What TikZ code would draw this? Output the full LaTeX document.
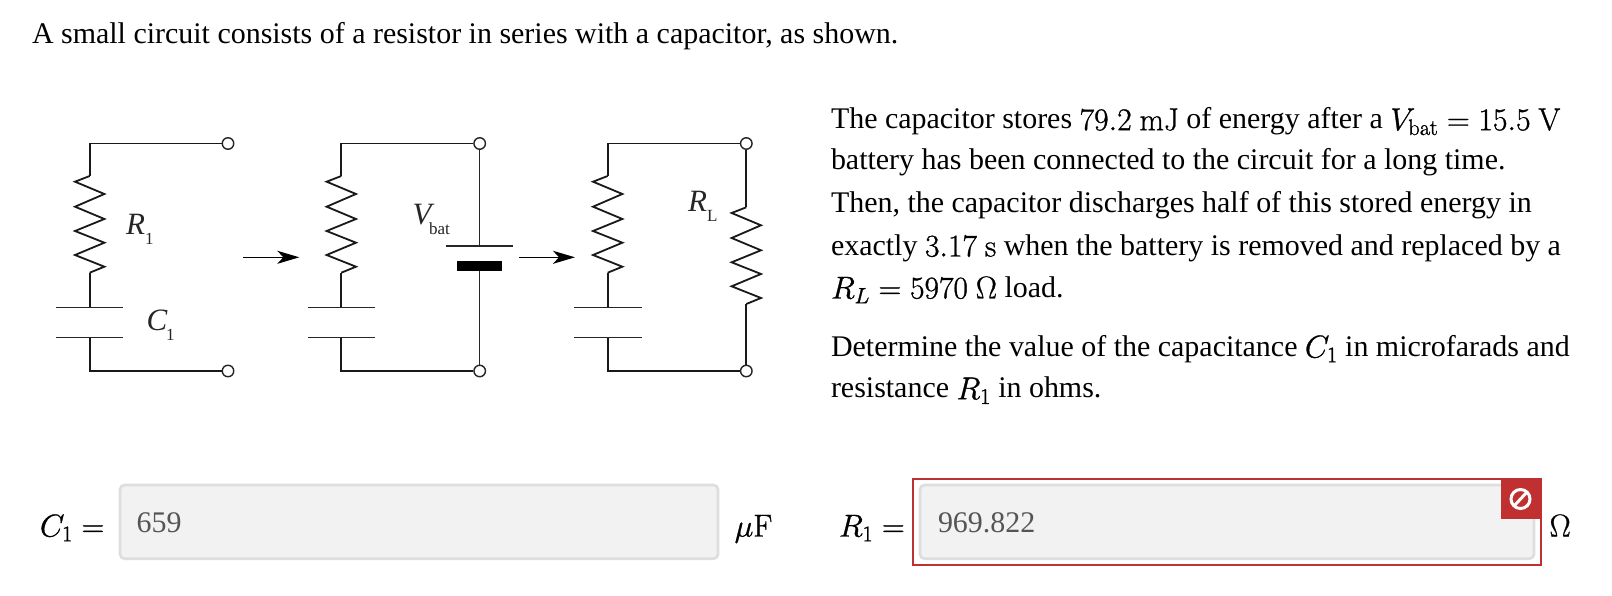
\documentclass[tikz,border=0pt]{standalone}
\usepackage{fix-cm}
\usepackage[no-math]{fontspec}
\setmainfont{Liberation Serif}
\usetikzlibrary{arrows.meta}
\newcommand{\bodyf}{\fontsize{29.95}{32}\selectfont}
\newcommand{\mathf}{\fontsize{31.6}{34}\selectfont}
\newcommand{\heavy}[1]{\special{pdf:code 2 Tr 0.3 w}#1\special{pdf:code 0 Tr 1 w}}
\newcommand{\mth}[1]{{\mathf\raisebox{-1.5pt}{\heavy{$#1$}}}}
\definecolor{inputgrey}{HTML}{F2F2F2}
\definecolor{inputline}{HTML}{DEDEDE}
\definecolor{inputtext}{HTML}{555555}
\definecolor{alertred}{HTML}{C03030}
\tikzset{
  wire/.style={line width=1.8pt,black!90,line join=miter},
  thinwire/.style={line width=1.4pt,black!85},
  term/.style={circle,draw=black!85,fill=white,line width=1.4pt,minimum size=11.5pt,inner sep=0pt},
  flow/.style={line width=1.3pt,black,-{Stealth[length=22pt,width=13pt,inset=6pt]}},
  txt/.style={anchor=base west,inner sep=0pt,outer sep=0pt,font=\bodyf,yshift=-1pt},
  lab/.style={anchor=base west,inner sep=0pt,outer sep=0pt,font=\fontsize{31}{32}\selectfont\itshape,text=black!85},
  sub/.style={anchor=base west,inner sep=0pt,outer sep=0pt,font=\fontsize{17}{18}\selectfont,text=black!85},
  field/.style={draw=inputline,fill=inputgrey,line width=2.6pt,rounded corners=4.5pt},
  val/.style={anchor=base west,inner sep=0pt,outer sep=0pt,font=\fontsize{29.95}{32}\selectfont,text=inputtext},
  zig/.pic={\draw[wire] (0,0) -- (-14.7,5.7) -- (14.7,18) -- (-14.7,30.7) -- (14.7,43) -- (-14.7,55) -- (14.7,66.7) -- (-14.7,79) -- (14.7,90.7) -- (0,96.7);}
}
\begin{document}
\begin{tikzpicture}[x=1pt,y=-1pt]
\useasboundingbox (0,0) rectangle (1612,596);
\fill[white] (0,0) rectangle (1612,596);
\node[txt] (head) at (32,43) {A small circuit consists of a resistor in series with a capacitor, as shown.};
% circuit 1
\node[term] (a1) at (228,143.5) {};
\node[term] (a2) at (228,371) {};
\coordinate (ra) at (89.7,176); \coordinate (rb) at (89.7,272.7);
\coordinate (ca) at (89.7,307.3); \coordinate (cb) at (89.7,337.3);
\draw[wire] (ra) |- (a1.west);
\draw[wire] (rb) -- (ca);
\draw[wire] (cb) |- (a2.west);
\pic at (ra) {zig};
\draw[thinwire] (56,307.3) -- (123.3,307.3);
\draw[thinwire] (56,337.3) -- (123.3,337.3);
\node[lab] (r1) at (126,234.3) {R};
\node[sub] (r1s) at (145,244) {1};
\node[lab] (c1) at (146.7,330.7) {C};
\node[sub] (c1s) at (166,340) {1};
% arrow 1
\coordinate (f1a) at (243.3,257.3); \coordinate (f1b) at (299.3,257.3);
\draw[flow] (f1a) -- (f1b);
% circuit 2
\node[term] (b1) at (479.7,143.5) {};
\node[term] (b2) at (479.7,371) {};
\coordinate (rc) at (341.3,176); \coordinate (rd) at (341.3,272.7);
\coordinate (cc) at (341.3,307.3); \coordinate (cd) at (341.3,337.3);
\coordinate (ba) at (479.7,246); \coordinate (bb) at (479.7,266);
\draw[wire] (rc) |- (b1.west);
\draw[wire] (rd) -- (cc);
\draw[wire] (cd) |- (b2.west);
\pic at (rc) {zig};
\draw[thinwire] (307.7,307.3) -- (375,307.3);
\draw[thinwire] (307.7,337.3) -- (375,337.3);
\draw[thinwire] (b1.south) -- (ba);
\draw[thinwire] (bb) -- (b2.north);
\draw[thinwire] (446,246) -- (513.3,246);
\fill[black] (457,261.3) rectangle (502,270.7);
\node[lab] (vb) at (412.7,225) {V};
\node[sub] (vbs) at (429,235) {bat};
% arrow 2
\coordinate (f2a) at (519.3,257.3); \coordinate (f2b) at (575,257.3);
\draw[flow] (f2a) -- (f2b);
% circuit 3
\node[term] (c3a) at (746.3,143.5) {};
\node[term] (c3b) at (746.3,371) {};
\coordinate (re) at (607.7,176); \coordinate (rf) at (607.7,272.7);
\coordinate (ce) at (607.7,307.3); \coordinate (cf) at (607.7,337.3);
\coordinate (rg) at (746.3,207.3); \coordinate (rh) at (746.3,303.9);
\draw[wire] (re) |- (c3a.west);
\draw[wire] (rf) -- (ce);
\draw[wire] (cf) |- (c3b.west);
\pic at (re) {zig};
\draw[wire] (c3a.south) -- (rg);
\pic at (rg) {zig};
\draw[wire] (rh) -- (c3b.north);
\draw[thinwire] (574.3,307.3) -- (641.7,307.3);
\draw[thinwire] (574.3,337.3) -- (641.7,337.3);
\node[lab] (rl) at (688,211.7) {R};
\node[sub] (rls) at (707,221.7) {L};
% paragraph
\node[txt] (l1) at (831,127.7) {The capacitor stores \mth{79.2\ \mathrm{mJ}} of energy after a \mth{V_{\mathrm{bat}}=15.5\ \mathrm{V}}};
\node[txt] (l2) at (831,169) {battery has been connected to the circuit for a long time.};
\node[txt] (l3) at (831,211.7) {Then, the capacitor discharges half of this stored energy in};
\node[txt] (l4) at (831,254) {exactly \mth{3.17\ \mathrm{s}} when the battery is removed and replaced by a};
\node[txt] (l5) at (831,296) {\mth{R_L=5970\ \Omega} load.};
\node[txt] (l6) at (831,355) {Determine the value of the capacitance \mth{C_1} in microfarads and};
\node[txt] (l7) at (831,396.7) {resistance \mth{R_1} in ohms.};
% left answer
\node[txt] (cl) at (40,535.5) {\mathf\heavy{$C_1=$}};
\draw[field] (120,485) rectangle (718,558.7);
\node[val] (cv) at (136.7,532) {659};
\node[txt] (cu) at (734.7,535.5) {\mathf\heavy{$\mu\mathrm{F}$}};
% right answer
\node[txt] (rl2) at (839,535.5) {\mathf\heavy{$R_1=$}};
\draw[alertred,line width=1.6pt] (912.7,478.7) rectangle (1541,565);
\draw[field] (920,485) rectangle (1534,558.7);
\node[val] (rv) at (938,532) {969.822};
\fill[alertred] (1500.5,478.7) rectangle (1541.8,519);
\draw[white,line width=3pt] (1520.5,499) circle (9.5);
\draw[white,line width=3pt] (1514,506) -- (1527,492);
\node[txt] (ru) at (1549.6,535.5) {\mathf\heavy{$\Omega$}};
\end{tikzpicture}
\end{document}
